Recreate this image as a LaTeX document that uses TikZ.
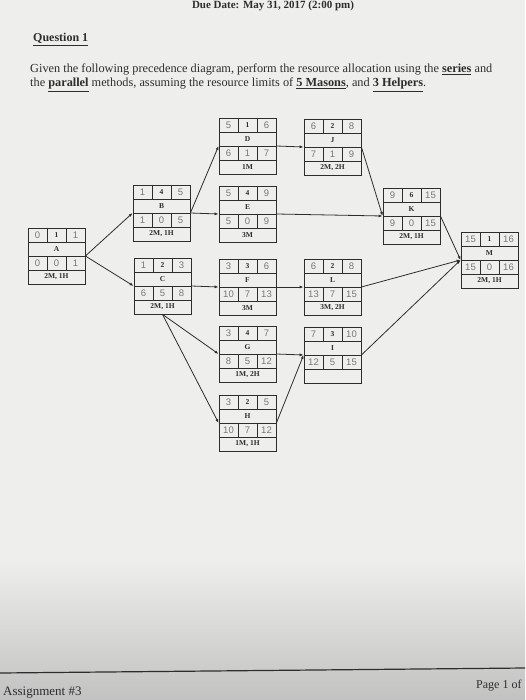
\documentclass[tikz,border=0pt]{standalone}
\usepackage{fontspec}
\setmainfont{Liberation Serif}
\newfontfamily\handfont{Liberation Sans}
\usetikzlibrary{arrows.meta}

\definecolor{ink}{RGB}{45,45,45}
\definecolor{pencil}{RGB}{120,120,120}
\definecolor{paper}{RGB}{238,238,237}

% one activity box: name, top-left corner, ES, dur, EF, LS, float, LF, resources
\newcommand{\actbox}[9]{%
  \begin{scope}[shift={(#2)}]
    \node[actbox] (#1) at (28.5,28) {};
    \draw[cell] (0,14) -- (57,14) (0,28) -- (57,28) (0,42) -- (57,42)
          (19,0) -- (19,14) (38,0) -- (38,14)
          (19,28) -- (19,42) (38,28) -- (38,42);
    \node[hand]  at (9.5,7)  {#3};
    \node[print] at (28.5,7) {#4};
    \node[hand]  at (47.5,7) {#5};
    \node[print] at (28.5,21) {#1};
    \node[hand]  at (9.5,35)  {#6};
    \node[hand]  at (28.5,35) {#7};
    \node[hand]  at (47.5,35) {#8};
    \node[print] at (28.5,49) {#9};
  \end{scope}}

\begin{document}
\begin{tikzpicture}[x=1pt,y=-1pt,
    actbox/.style={draw=ink, line width=0.8pt, minimum width=57pt, minimum height=56pt, inner sep=0pt},
    cell/.style={draw=ink, line width=0.6pt},
    hand/.style={text=pencil, font=\handfont\fontsize{9.5}{9.5}\selectfont, inner sep=0pt},
    print/.style={text=ink, font=\bfseries\fontsize{7.5}{7.5}\selectfont, inner sep=0pt},
    link/.style={draw=ink, line width=0.8pt, -{Latex[length=4pt,width=3pt]}},
    page/.style={text=ink, anchor=base west, inner sep=0pt}]

\useasboundingbox (0,0) rectangle (525,700);
\fill[paper] (0,0) rectangle (525,700);
\shade[top color=paper, bottom color=paper!60!gray] (0,560) rectangle (525,700);

% header and question
\node[page, anchor=base] at (273,9) {\bfseries\fontsize{11}{13}\selectfont Due Date: May 31, 2017 (2:00 pm)};
\node[page] at (33,42) {\bfseries\fontsize{12}{14}\selectfont\underline{Question 1}};
\node[page] at (30,73) {\fontsize{12.3}{14}\selectfont Given the following precedence diagram, perform the resource allocation using the \underline{\textbf{series}} and};
\node[page] at (30,87) {\fontsize{12.3}{14}\selectfont the \underline{\textbf{parallel}} methods, assuming the resource limits of \underline{\textbf{5 Masons}}, and \underline{\textbf{3 Helpers}}.};

% activities
\actbox{A}{28,228}{0}{1}{1}{0}{0}{1}{2M, 1H}
\actbox{B}{133,185}{1}{4}{5}{1}{0}{5}{2M, 1H}
\actbox{C}{134,258}{1}{2}{3}{6}{5}{8}{2M, 1H}
\actbox{D}{219,118}{5}{1}{6}{6}{1}{7}{1M}
\actbox{E}{219,186}{5}{4}{9}{5}{0}{9}{3M}
\actbox{F}{219,259}{3}{3}{6}{10}{7}{13}{3M}
\actbox{G}{219,326}{3}{4}{7}{8}{5}{12}{1M, 2H}
\actbox{H}{219,395}{3}{2}{5}{10}{7}{12}{1M, 1H}
\actbox{J}{304,119}{6}{2}{8}{7}{1}{9}{2M, 2H}
\actbox{L}{304,259}{6}{2}{8}{13}{7}{15}{3M, 2H}
\actbox{I}{304,327}{7}{3}{10}{12}{5}{15}{}
\actbox{K}{383,188}{9}{6}{15}{9}{0}{15}{2M, 1H}
\actbox{M}{461,232}{15}{1}{16}{15}{0}{16}{2M, 1H}

% precedence links
\draw[link] (A.east) -- (B.west);
\draw[link] (A.east) -- (C.west);
\draw[link] (B.east) -- (D.west);
\draw[link] (B.east) -- (E.west);
\draw[link] (D.east) -- (J.west);
\draw[link] (J.east) -- (K.west);
\draw[link] (E.east) -- (K.west);
\draw[link] (K.east) -- (M.west);
\draw[link] (C.east) -- (F.west);
\draw[link] (F.east) -- (L.west);
\draw[link] (L.east) -- (M.west);
\draw[link] (C.south) -- (G.west);
\draw[link] (C.south) -- (H.west);
\draw[link] (G.east) -- (I.west);
\draw[link] (H.east) -- (I.west);
\draw[link] (I.east) -- (M.west);

% footer
\draw[ink, line width=1.2pt] (0,673) -- (525,668);
\node[page] at (3,695) {\fontsize{13}{15}\selectfont Assignment \#3};
\node[page] at (476,688) {\fontsize{12}{14}\selectfont Page 1 of};
\end{tikzpicture}
\end{document}
